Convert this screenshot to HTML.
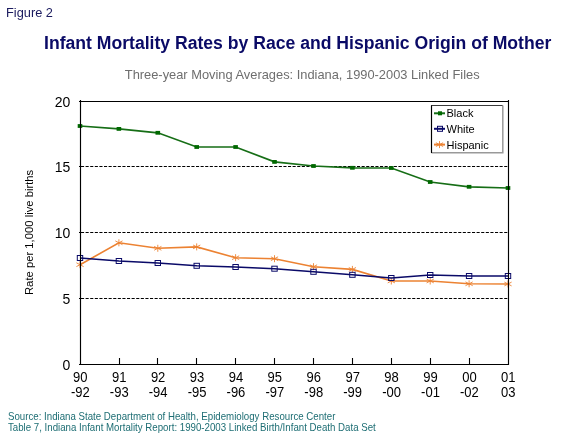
<!DOCTYPE html>
<html><head><meta charset="utf-8"><style>
html,body{margin:0;padding:0;background:#fff;width:562px;height:443px;overflow:hidden;position:relative}
svg text{font-family:"Liberation Sans",sans-serif}
svg{will-change:transform}
</style></head><body>
<svg width="562" height="443" viewBox="0 0 562 443" style="position:absolute;left:0;top:0"><text transform="translate(6,16.8) scale(0.955,1)" x="0" y="0" font-size="13.4" fill="#1a1a5e">Figure 2</text><text x="44" y="48.9" font-size="17.6" font-weight="bold" fill="#0a0a66">Infant Mortality Rates by Race and Hispanic Origin of Mother</text><text transform="translate(124.8,78.7) scale(0.975,1)" x="0" y="0" font-size="13.2" fill="#6e6e6e">Three-year Moving Averages: Indiana, 1990-2003 Linked Files</text><line x1="81" y1="166.5" x2="508" y2="166.5" stroke="#000" stroke-width="1" stroke-dasharray="3.1,1.5"/><line x1="81" y1="232.5" x2="508" y2="232.5" stroke="#000" stroke-width="1" stroke-dasharray="3.1,1.5"/><line x1="81" y1="298.5" x2="508" y2="298.5" stroke="#000" stroke-width="1" stroke-dasharray="3.1,1.5"/><text transform="translate(70.4,369.8) scale(0.96,1)" x="0" y="0" font-size="14.6" text-anchor="end" fill="#000">0</text><text transform="translate(70.4,303.8) scale(0.96,1)" x="0" y="0" font-size="14.6" text-anchor="end" fill="#000">5</text><text transform="translate(70.4,237.8) scale(0.96,1)" x="0" y="0" font-size="14.6" text-anchor="end" fill="#000">10</text><text transform="translate(70.4,171.8) scale(0.96,1)" x="0" y="0" font-size="14.6" text-anchor="end" fill="#000">15</text><text transform="translate(70.4,106.8) scale(0.96,1)" x="0" y="0" font-size="14.6" text-anchor="end" fill="#000">20</text><text transform="translate(32.5,232.4) rotate(-90)" font-size="11.27" text-anchor="middle" fill="#000">Rate per 1,000 live births</text><text transform="translate(80.30,0) scale(0.93,1)" x="0" y="382" font-size="14" text-anchor="middle" fill="#000">90</text><text transform="translate(80.30,0) scale(0.93,1)" x="0" y="397" font-size="14" text-anchor="middle" fill="#000">-92</text><text transform="translate(119.21,0) scale(0.93,1)" x="0" y="382" font-size="14" text-anchor="middle" fill="#000">91</text><text transform="translate(119.21,0) scale(0.93,1)" x="0" y="397" font-size="14" text-anchor="middle" fill="#000">-93</text><text transform="translate(158.12,0) scale(0.93,1)" x="0" y="382" font-size="14" text-anchor="middle" fill="#000">92</text><text transform="translate(158.12,0) scale(0.93,1)" x="0" y="397" font-size="14" text-anchor="middle" fill="#000">-94</text><text transform="translate(197.03,0) scale(0.93,1)" x="0" y="382" font-size="14" text-anchor="middle" fill="#000">93</text><text transform="translate(197.03,0) scale(0.93,1)" x="0" y="397" font-size="14" text-anchor="middle" fill="#000">-95</text><text transform="translate(235.94,0) scale(0.93,1)" x="0" y="382" font-size="14" text-anchor="middle" fill="#000">94</text><text transform="translate(235.94,0) scale(0.93,1)" x="0" y="397" font-size="14" text-anchor="middle" fill="#000">-96</text><text transform="translate(274.85,0) scale(0.93,1)" x="0" y="382" font-size="14" text-anchor="middle" fill="#000">95</text><text transform="translate(274.85,0) scale(0.93,1)" x="0" y="397" font-size="14" text-anchor="middle" fill="#000">-97</text><text transform="translate(313.75,0) scale(0.93,1)" x="0" y="382" font-size="14" text-anchor="middle" fill="#000">96</text><text transform="translate(313.75,0) scale(0.93,1)" x="0" y="397" font-size="14" text-anchor="middle" fill="#000">-98</text><text transform="translate(352.66,0) scale(0.93,1)" x="0" y="382" font-size="14" text-anchor="middle" fill="#000">97</text><text transform="translate(352.66,0) scale(0.93,1)" x="0" y="397" font-size="14" text-anchor="middle" fill="#000">-99</text><text transform="translate(391.57,0) scale(0.93,1)" x="0" y="382" font-size="14" text-anchor="middle" fill="#000">98</text><text transform="translate(391.57,0) scale(0.93,1)" x="0" y="397" font-size="14" text-anchor="middle" fill="#000">-00</text><text transform="translate(430.48,0) scale(0.93,1)" x="0" y="382" font-size="14" text-anchor="middle" fill="#000">99</text><text transform="translate(430.48,0) scale(0.93,1)" x="0" y="397" font-size="14" text-anchor="middle" fill="#000">-01</text><text transform="translate(469.39,0) scale(0.93,1)" x="0" y="382" font-size="14" text-anchor="middle" fill="#000">00</text><text transform="translate(469.39,0) scale(0.93,1)" x="0" y="397" font-size="14" text-anchor="middle" fill="#000">-02</text><text transform="translate(508.30,0) scale(0.93,1)" x="0" y="382" font-size="14" text-anchor="middle" fill="#000">01</text><text transform="translate(508.30,0) scale(0.93,1)" x="0" y="397" font-size="14" text-anchor="middle" fill="#000">03</text><polyline points="80.0,264.7 118.9,242.8 157.8,248.3 196.7,246.9 235.6,257.7 274.5,258.7 313.5,266.7 352.4,269.4 391.3,281.0 430.2,281.0 469.1,283.8 508.0,284.0" fill="none" stroke="#ec8232" stroke-width="1.6"/><path d="M80.0,261.2V268.2M76.4,262.8L83.6,266.6M83.6,262.8L76.4,266.6" stroke="#ec8232" stroke-width="0.9" fill="none"/><path d="M118.9,239.3V246.3M115.3,240.9L122.5,244.7M122.5,240.9L115.3,244.7" stroke="#ec8232" stroke-width="0.9" fill="none"/><path d="M157.8,244.8V251.8M154.2,246.4L161.4,250.2M161.4,246.4L154.2,250.2" stroke="#ec8232" stroke-width="0.9" fill="none"/><path d="M196.7,243.4V250.4M193.1,245.0L200.3,248.8M200.3,245.0L193.1,248.8" stroke="#ec8232" stroke-width="0.9" fill="none"/><path d="M235.6,254.2V261.2M232.0,255.8L239.2,259.6M239.2,255.8L232.0,259.6" stroke="#ec8232" stroke-width="0.9" fill="none"/><path d="M274.5,255.2V262.2M270.9,256.8L278.1,260.6M278.1,256.8L270.9,260.6" stroke="#ec8232" stroke-width="0.9" fill="none"/><path d="M313.5,263.2V270.2M309.9,264.8L317.1,268.6M317.1,264.8L309.9,268.6" stroke="#ec8232" stroke-width="0.9" fill="none"/><path d="M352.4,265.9V272.9M348.8,267.5L356.0,271.3M356.0,267.5L348.8,271.3" stroke="#ec8232" stroke-width="0.9" fill="none"/><path d="M391.3,277.5V284.5M387.7,279.1L394.9,282.9M394.9,279.1L387.7,282.9" stroke="#ec8232" stroke-width="0.9" fill="none"/><path d="M430.2,277.5V284.5M426.6,279.1L433.8,282.9M433.8,279.1L426.6,282.9" stroke="#ec8232" stroke-width="0.9" fill="none"/><path d="M469.1,280.3V287.3M465.5,281.9L472.7,285.7M472.7,281.9L465.5,285.7" stroke="#ec8232" stroke-width="0.9" fill="none"/><path d="M508.0,280.5V287.5M504.4,282.1L511.6,285.9M511.6,282.1L504.4,285.9" stroke="#ec8232" stroke-width="0.9" fill="none"/><polyline points="80.0,258.0 118.9,261.0 157.8,263.0 196.7,265.8 235.6,267.0 274.5,268.7 313.5,271.8 352.4,274.8 391.3,278.0 430.2,275.0 469.1,276.0 508.0,276.0" fill="none" stroke="#0a0a68" stroke-width="1.4"/><rect x="77.3" y="255.5" width="5.4" height="5" fill="none" stroke="#0a0a68" stroke-width="1"/><rect x="116.2" y="258.5" width="5.4" height="5" fill="none" stroke="#0a0a68" stroke-width="1"/><rect x="155.1" y="260.5" width="5.4" height="5" fill="none" stroke="#0a0a68" stroke-width="1"/><rect x="194.0" y="263.3" width="5.4" height="5" fill="none" stroke="#0a0a68" stroke-width="1"/><rect x="232.9" y="264.5" width="5.4" height="5" fill="none" stroke="#0a0a68" stroke-width="1"/><rect x="271.8" y="266.2" width="5.4" height="5" fill="none" stroke="#0a0a68" stroke-width="1"/><rect x="310.8" y="269.3" width="5.4" height="5" fill="none" stroke="#0a0a68" stroke-width="1"/><rect x="349.7" y="272.3" width="5.4" height="5" fill="none" stroke="#0a0a68" stroke-width="1"/><rect x="388.6" y="275.5" width="5.4" height="5" fill="none" stroke="#0a0a68" stroke-width="1"/><rect x="427.5" y="272.5" width="5.4" height="5" fill="none" stroke="#0a0a68" stroke-width="1"/><rect x="466.4" y="273.5" width="5.4" height="5" fill="none" stroke="#0a0a68" stroke-width="1"/><rect x="505.3" y="273.5" width="5.4" height="5" fill="none" stroke="#0a0a68" stroke-width="1"/><polyline points="80.0,126.0 118.9,128.9 157.8,132.8 196.7,147.0 235.6,147.0 274.5,161.9 313.5,166.0 352.4,167.8 391.3,168.0 430.2,182.0 469.1,186.8 508.0,188.0" fill="none" stroke="#166e16" stroke-width="1.7"/><rect x="77.7" y="124.1" width="4.6" height="3.8" fill="#006800"/><rect x="116.6" y="127.0" width="4.6" height="3.8" fill="#006800"/><rect x="155.5" y="130.9" width="4.6" height="3.8" fill="#006800"/><rect x="194.4" y="145.1" width="4.6" height="3.8" fill="#006800"/><rect x="233.3" y="145.1" width="4.6" height="3.8" fill="#006800"/><rect x="272.2" y="160.0" width="4.6" height="3.8" fill="#006800"/><rect x="311.2" y="164.1" width="4.6" height="3.8" fill="#006800"/><rect x="350.1" y="165.9" width="4.6" height="3.8" fill="#006800"/><rect x="389.0" y="166.1" width="4.6" height="3.8" fill="#006800"/><rect x="427.9" y="180.1" width="4.6" height="3.8" fill="#006800"/><rect x="466.8" y="184.9" width="4.6" height="3.8" fill="#006800"/><rect x="505.7" y="186.1" width="4.6" height="3.8" fill="#006800"/><path d="M80.5,100V364.5H508.5V100M79,101.5H509" fill="none" stroke="#000" stroke-width="1.15"/><line x1="79" y1="166.5" x2="81" y2="166.5" stroke="#000" stroke-width="1.1"/><line x1="79" y1="232.5" x2="81" y2="232.5" stroke="#000" stroke-width="1.1"/><line x1="79" y1="298.5" x2="81" y2="298.5" stroke="#000" stroke-width="1.1"/><line x1="79" y1="364.5" x2="81" y2="364.5" stroke="#000" stroke-width="1.1"/><line x1="119.5" y1="358" x2="119.5" y2="364" stroke="#000" stroke-width="1.1"/><line x1="157.5" y1="358" x2="157.5" y2="364" stroke="#000" stroke-width="1.1"/><line x1="196.5" y1="358" x2="196.5" y2="364" stroke="#000" stroke-width="1.1"/><line x1="235.5" y1="358" x2="235.5" y2="364" stroke="#000" stroke-width="1.1"/><line x1="274.5" y1="358" x2="274.5" y2="364" stroke="#000" stroke-width="1.1"/><line x1="313.5" y1="358" x2="313.5" y2="364" stroke="#000" stroke-width="1.1"/><line x1="352.5" y1="358" x2="352.5" y2="364" stroke="#000" stroke-width="1.1"/><line x1="391.5" y1="358" x2="391.5" y2="364" stroke="#000" stroke-width="1.1"/><line x1="430.5" y1="358" x2="430.5" y2="364" stroke="#000" stroke-width="1.1"/><line x1="469.5" y1="358" x2="469.5" y2="364" stroke="#000" stroke-width="1.1"/><rect x="431.5" y="105.5" width="71" height="47" fill="#fff" stroke="none"/><path d="M431.5,152.5V105.5H502.8" fill="none" stroke="#3a3a3a" stroke-width="1.1"/><path d="M431.5,152.7H502.8V105.5" fill="none" stroke="#999" stroke-width="1.5"/><path d="M431.5,153V105.5" fill="none" stroke="#000" stroke-width="1.1"/><line x1="434" y1="113.3" x2="445" y2="113.3" stroke="#166e16" stroke-width="2"/><rect x="438" y="111.3" width="4" height="4" fill="#006800"/><line x1="434" y1="128.8" x2="445" y2="128.8" stroke="#0a0a68" stroke-width="2"/><rect x="437.5" y="126.30000000000001" width="5" height="5" fill="none" stroke="#0a0a68" stroke-width="1"/><line x1="434" y1="144.6" x2="445" y2="144.6" stroke="#ec8232" stroke-width="2"/><path d="M439.5,141.1V148.1M435.9,142.7L443.1,146.5M443.1,142.7L435.9,146.5" stroke="#ec8232" stroke-width="0.9" fill="none"/><text x="446.5" y="117.4" font-size="11" fill="#000">Black</text><text x="446.5" y="132.9" font-size="11" fill="#000">White</text><text x="446.5" y="148.7" font-size="11" fill="#000">Hispanic</text><text transform="translate(8,420) scale(0.96,1)" x="0" y="0" font-size="10.1" fill="#1e6e74">Source: Indiana State Department of Health, Epidemiology Resource Center</text><text transform="translate(8,430.7) scale(0.96,1)" x="0" y="0" font-size="10.1" fill="#1e6e74">Table 7, Indiana Infant Mortality Report: 1990-2003 Linked Birth/Infant Death Data Set</text></svg>
</body></html>
